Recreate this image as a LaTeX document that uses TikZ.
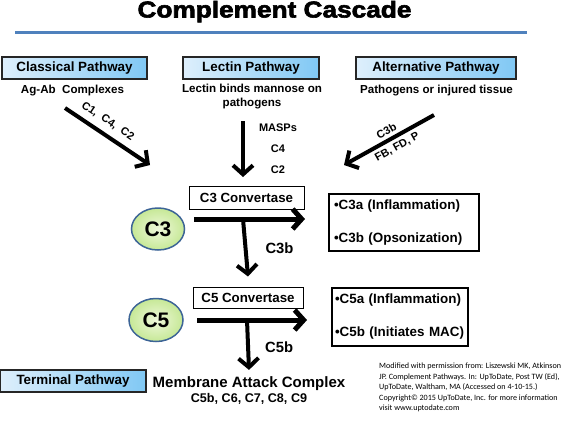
\documentclass[tikz,border=0pt]{standalone}
\usepackage{fontspec}
\setmainfont{Liberation Sans}
\newfontfamily\notefont{Carlito}
\newfontfamily\headfont{Liberation Sans Bold}[FakeBold=2.5]
\usetikzlibrary{arrows.meta,shapes.geometric}

\definecolor{rulecol}{RGB}{79,129,189}
\definecolor{paleblue}{RGB}{222,239,252}
\definecolor{skyblue}{RGB}{128,200,244}
\definecolor{palegreen}{RGB}{238,248,218}
\definecolor{leafgreen}{RGB}{198,232,150}
\definecolor{ringblue}{RGB}{60,100,150}

\tikzset{
  pathway/.style={draw=black!85, line width=1.3pt, left color=paleblue, right color=skyblue,
    minimum height=22pt, inner sep=0pt, font=\fontsize{13.4}{15}\selectfont\bfseries},
  convbox/.style={draw, line width=1pt, fill=white, inner sep=0pt,
    font=\fontsize{13.3}{15}\selectfont\bfseries},
  outbox/.style={draw, line width=1.2pt, align=left, inner ysep=0pt,
    font=\fontsize{13.4}{33}\selectfont\bfseries},
  factor/.style={ellipse, draw=ringblue, line width=1.5pt, inner color=palegreen,
    outer color=leafgreen, inner sep=0pt, font=\fontsize{21}{23}\selectfont\bfseries},
  note/.style={inner sep=0pt, anchor=base, font=\fontsize{11.6}{14}\selectfont\bfseries},
  smallnote/.style={inner sep=0pt, font=\fontsize{11}{13}\selectfont\bfseries},
  bignote/.style={inner sep=0pt, font=\fontsize{14.8}{17}\selectfont\bfseries},
  bigarrow/.style={line width=4pt, -{Straight Barb[length=9pt,width=20pt]}},
}

\begin{document}
\begin{tikzpicture}[x=1pt,y=-1pt]
  \useasboundingbox (0,0) rectangle (567,421);
  % heading
  \node[inner sep=0pt, anchor=base, font=\fontsize{23}{25}\headfont] (title)
    at (274.5,17.5) {\scalebox{1.14}[1]{Complement Cascade}};
  \draw[rulecol, line width=3pt] (15,32) -- (527,32);

  % the three ways in
  \node[pathway, minimum width=145pt] (classical) at (74.5,68) {Classical Pathway};
  \node[pathway, minimum width=136pt] (lectin) at (251,68) {Lectin Pathway};
  \node[pathway, minimum width=160pt] (alternative) at (436,68) {Alternative Pathway};
  \node[note] (agab) at (72.5,93) {Ag-Ab\ \ Complexes};
  \node[note, anchor=north, align=center] (mannose) at (252,83.5)
    {Lectin binds mannose on\\pathogens};
  \node[note] (injury) at (436.5,93) {Pathogens or injured tissue};

  % C3 step
  \node[factor, minimum width=53pt, minimum height=42pt] (c3) at (158,229) {C3};
  \node[convbox, minimum width=115pt, minimum height=23pt] (c3conv) at (246.5,197.5) {C3 Convertase};
  \node[outbox, text width=140pt, inner xsep=5pt, minimum height=57pt] (c3out) at (404,222.5)
    {•C3a (Inflammation)\\•C3b (Opsonization)};

  % C5 step
  \node[factor, minimum width=54pt, minimum height=43pt] (c5) at (156,320) {C5};
  \node[convbox, minimum width=110pt, minimum height=21pt] (c5conv) at (248,297.5) {C5 Convertase};
  \node[outbox, text width=130pt, inner xsep=3pt, minimum height=58pt] (c5out) at (400,317)
    {•C5a (Inflammation)\\•C5b (Initiates MAC)};

  % terminal pathway
  \node[pathway, minimum width=146pt] (terminal) at (73,381) {Terminal Pathway};
  \node[note, font=\fontsize{15}{17}\selectfont\bfseries] (mac) at (249,387.5) {Membrane Attack Complex};
  \node[note, font=\fontsize{12.6}{14}\selectfont\bfseries] (macparts) at (249,402.5) {C5b, C6, C7, C8, C9};
  \node[anchor=north west, inner sep=0pt, align=left, font=\notefont\fontsize{8.1}{10.5}\selectfont]
    (source) at (379,363) {Modified with permission from: Liszewski MK, Atkinson\\
    JP. Complement Pathways. In: UpToDate, Post TW (Ed),\\
    UpToDate, Waltham, MA (Accessed on 4-10-15.)\\
    Copyright© 2015 UpToDate, Inc. for more information\\
    visit www.uptodate.com};

  % arrows
  \coordinate (clA) at (65,108);
  \coordinate (clB) at (150,165);
  \draw[bigarrow] (clA) -- node[pos=0.42, sloped, above=6pt, smallnote] {C1,\ \ C4,\ \ C2} (clB);

  \coordinate (leA) at (243,121);
  \coordinate (leB) at (243,177);
  \draw[bigarrow] (leA) -- (leB);
  \node[smallnote, anchor=base] (masp) at (278,131) {MASPs};
  \node[smallnote, anchor=base] (c4) at (278,152) {C4};
  \node[smallnote, anchor=base] (c2) at (278,173) {C2};

  \coordinate (alA) at (434,115);
  \coordinate (alB) at (344,165);
  \draw[bigarrow] (alA) -- node[pos=0.48, sloped, above=3pt, smallnote] {C3b}
    node[pos=0.465, sloped, below=4pt, smallnote] {FB,\ FD,\ P} (alB);

  \coordinate (c3A) at (194,219);
  \coordinate (c3B) at (305,219);
  \coordinate (c3split) at (243,219);
  \draw[bigarrow, line width=5pt] (c3A) -- (c3B);
  \draw[bigarrow] (c3split) -- node[right=18pt, bignote] {C3b} ([yshift=10pt]c5conv.north);

  \coordinate (c5A) at (197,320);
  \coordinate (c5B) at (307,320);
  \coordinate (c5split) at (247,320);
  \draw[bigarrow, line width=5pt] (c5A) -- (c5B);
  \draw[bigarrow] (c5split) -- node[pos=0.55, right=15pt, bignote] {C5b} ([yshift=6.5pt]mac.north);
\end{tikzpicture}
\end{document}
